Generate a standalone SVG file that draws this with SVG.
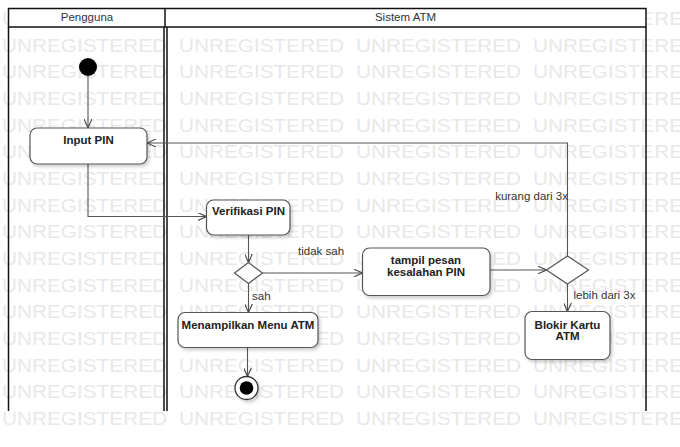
<svg xmlns="http://www.w3.org/2000/svg" xmlns:xlink="http://www.w3.org/1999/xlink" width="680" height="447" viewBox="0 0 680 447">
<style>
.wm{font-family:"Liberation Sans",Arial,sans-serif;font-size:19px;fill:#e8e8e8}
.lane{stroke:#111;stroke-width:1.5;fill:none}
.hdrbox{stroke:#111;stroke-width:1.5;fill:#fff}
.hdr{font-family:"Liberation Sans",Arial,sans-serif;font-size:11.5px;fill:#333;text-anchor:middle}
.box{fill:#fff;stroke:#555;stroke-width:1.2}
.nt{font-family:"Liberation Sans",Arial,sans-serif;font-size:11.5px;font-weight:bold;fill:#222;text-anchor:middle}
.lbl{font-family:"Liberation Sans",Arial,sans-serif;font-size:11.5px;fill:#333}
.con{fill:none;stroke:#555;stroke-width:1.1;marker-end:url(#arr)}
</style>
<defs>
<marker id="arr" viewBox="0 0 9 8" refX="9" refY="4" markerWidth="9" markerHeight="8" markerUnits="userSpaceOnUse" orient="auto">
<path d="M0,0 L9,4 L0,8" fill="none" stroke="#444" stroke-width="1.1"/>
</marker>
<filter id="sh" x="-20%" y="-20%" width="140%" height="150%">
<feDropShadow dx="2" dy="2.5" stdDeviation="1.5" flood-color="#000" flood-opacity="0.18"/>
</filter>
<text id="wmrow" class="wm"><tspan x="2" textLength="165" lengthAdjust="spacingAndGlyphs">UNREGISTERED</tspan><tspan x="179" textLength="165" lengthAdjust="spacingAndGlyphs">UNREGISTERED</tspan><tspan x="356" textLength="165" lengthAdjust="spacingAndGlyphs">UNREGISTERED</tspan><tspan x="533" textLength="165" lengthAdjust="spacingAndGlyphs">UNREGISTERED</tspan></text>
</defs>
<rect width="680" height="447" fill="#fff"/>
<g id="watermark">
<use xlink:href="#wmrow" y="25"/>
<use xlink:href="#wmrow" y="51.6"/>
<use xlink:href="#wmrow" y="78.3"/>
<use xlink:href="#wmrow" y="105"/>
<use xlink:href="#wmrow" y="131.6"/>
<use xlink:href="#wmrow" y="158.3"/>
<use xlink:href="#wmrow" y="185"/>
<use xlink:href="#wmrow" y="211.6"/>
<use xlink:href="#wmrow" y="238.3"/>
<use xlink:href="#wmrow" y="265"/>
<use xlink:href="#wmrow" y="291.6"/>
<use xlink:href="#wmrow" y="318.3"/>
<use xlink:href="#wmrow" y="345"/>
<use xlink:href="#wmrow" y="371.6"/>
<use xlink:href="#wmrow" y="398.3"/>
<use xlink:href="#wmrow" y="425"/>
</g>
<g id="lanes">
<rect x="8.5" y="8.5" width="637.5" height="18.5" class="hdrbox"/>
<line x1="165" y1="8.5" x2="165" y2="27" class="lane"/>
<line x1="8.5" y1="27" x2="8.5" y2="411" class="lane"/>
<line x1="164" y1="27" x2="164" y2="411" class="lane"/>
<line x1="167" y1="27" x2="167" y2="411" class="lane"/>
<line x1="646" y1="27" x2="646" y2="411" class="lane"/>
<text x="87" y="21" class="hdr">Pengguna</text>
<text x="405.5" y="21" class="hdr">Sistem ATM</text>
</g>
<g id="connectors">
<path class="con" d="M88,76 V128"/>
<path class="con" d="M88,164 V216.5 H206.5"/>
<path class="con" d="M248.5,235 V262.5"/>
<path class="con" d="M262.5,273 H362.5"/>
<path class="con" d="M248.5,283.5 V312.5"/>
<path class="con" d="M247.5,347.5 V376.5"/>
<path class="con" d="M490,270 H546.5"/>
<path class="con" d="M567.5,256 V143 H147"/>
<path class="con" d="M567.5,284 V311.5"/>
<text x="298" y="255" class="lbl">tidak sah</text>
<text x="252" y="300" class="lbl">sah</text>
<text x="568" y="200" class="lbl" text-anchor="end">kurang dari 3x</text>
<text x="573.5" y="299" class="lbl">lebih dari 3x</text>
</g>
<g id="start">
<circle cx="88" cy="67" r="9" fill="#000"/>
</g>
<g id="input-pin">
<rect x="30" y="128" width="117" height="36" rx="7" class="box" filter="url(#sh)"/>
<text x="88.5" y="143.5" class="nt">Input PIN</text>
</g>
<g id="verifikasi-pin">
<rect x="206.5" y="200" width="83.5" height="35" rx="7" class="box" filter="url(#sh)"/>
<text x="248.5" y="214.5" class="nt">Verifikasi PIN</text>
</g>
<g id="decision-1">
<polygon points="234.5,273 248.5,262.5 262.5,273 248.5,283.5" class="box"/>
</g>
<g id="tampil-pesan">
<rect x="362.5" y="248" width="127.5" height="47.5" rx="7" class="box" filter="url(#sh)"/>
<text x="426" y="264" class="nt">tampil pesan</text>
<text x="426" y="275.5" class="nt">kesalahan PIN</text>
</g>
<g id="decision-2">
<polygon points="546.5,270 567.5,256 588.5,270 567.5,284" class="box"/>
</g>
<g id="menampilkan-menu">
<rect x="178" y="312.5" width="140" height="35" rx="7" class="box" filter="url(#sh)"/>
<text x="248" y="328.5" class="nt">Menampilkan Menu ATM</text>
</g>
<g id="blokir-kartu">
<rect x="525" y="311.5" width="85" height="48" rx="7" class="box" filter="url(#sh)"/>
<text x="567.5" y="328.5" class="nt">Blokir Kartu</text>
<text x="567.5" y="339.5" class="nt">ATM</text>
</g>
<g id="end">
<circle cx="246.5" cy="388" r="11.5" fill="#fff" stroke="#333" stroke-width="1.3" filter="url(#sh)"/>
<circle cx="246.5" cy="388" r="6.8" fill="#000"/>
</g>
</svg>
